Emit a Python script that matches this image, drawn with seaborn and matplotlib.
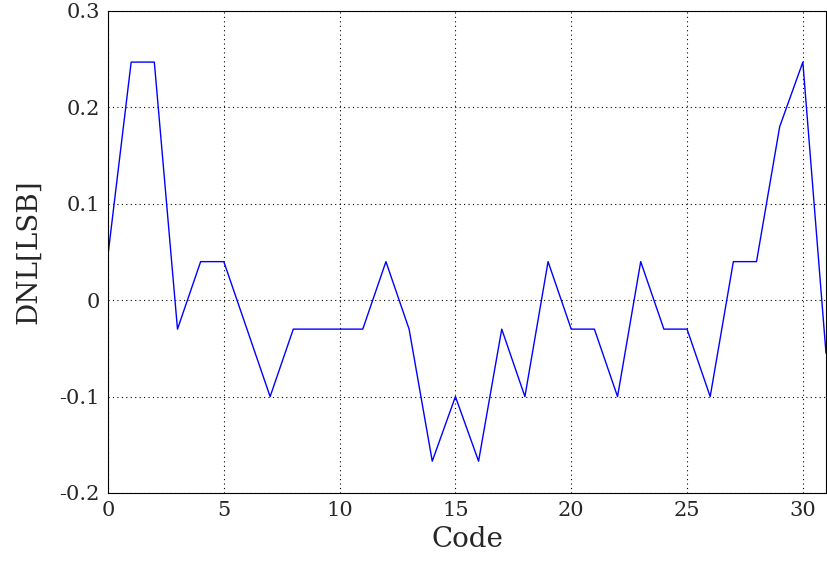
import matplotlib
matplotlib.use("Agg")
import matplotlib.pyplot as plt
import seaborn as sns
import pandas as pd

codes = list(range(32))
dnl = [0.047, 0.247, 0.247, -0.03, 0.04, 0.04, -0.03, -0.1, -0.03, -0.03, -0.03, -0.03,
       0.04, -0.03, -0.167, -0.1, -0.167, -0.03, -0.1, 0.04, -0.03, -0.03, -0.1, 0.04,
       -0.03, -0.03, -0.1, 0.04, 0.04, 0.18, 0.247, -0.055]
xticks = [0, 5, 10, 15, 20, 25, 30]
yticks = [-0.2, -0.1, 0, 0.1, 0.2, 0.3]
yticklabels = ["-0.2", "-0.1", "0", "0.1", "0.2", "0.3"]

sns.set_style("white")
plt.rcParams['font.family'] = ['DejaVu Serif']
fig = plt.figure(figsize=(8.27, 5.66), dpi=100)
ax = fig.add_axes([108/827, 73/566, 718/827, 482/566])
df = pd.DataFrame({"Code": codes, "DNL": dnl})
sns.lineplot(data=df, x="Code", y="DNL", ax=ax, color="#0000ff", linewidth=1)
ax.set_xlim(0, 31)
ax.set_ylim(-0.2, 0.3)
ax.set_xticks(xticks)
ax.set_yticks(yticks)
ax.set_yticklabels(yticklabels)
ax.grid(True, linestyle=(0, (1, 3)), color="black", linewidth=0.8)
ax.tick_params(direction="in", labelsize=15, length=4, pad=6)
ax.set_xlabel("Code", fontsize=20, labelpad=4)
ax.set_ylabel("DNL[LSB]", fontsize=20, labelpad=12)
for s in ax.spines.values():
    s.set_color("black"); s.set_linewidth(0.8)
fig.savefig("out.png", dpi=100)
